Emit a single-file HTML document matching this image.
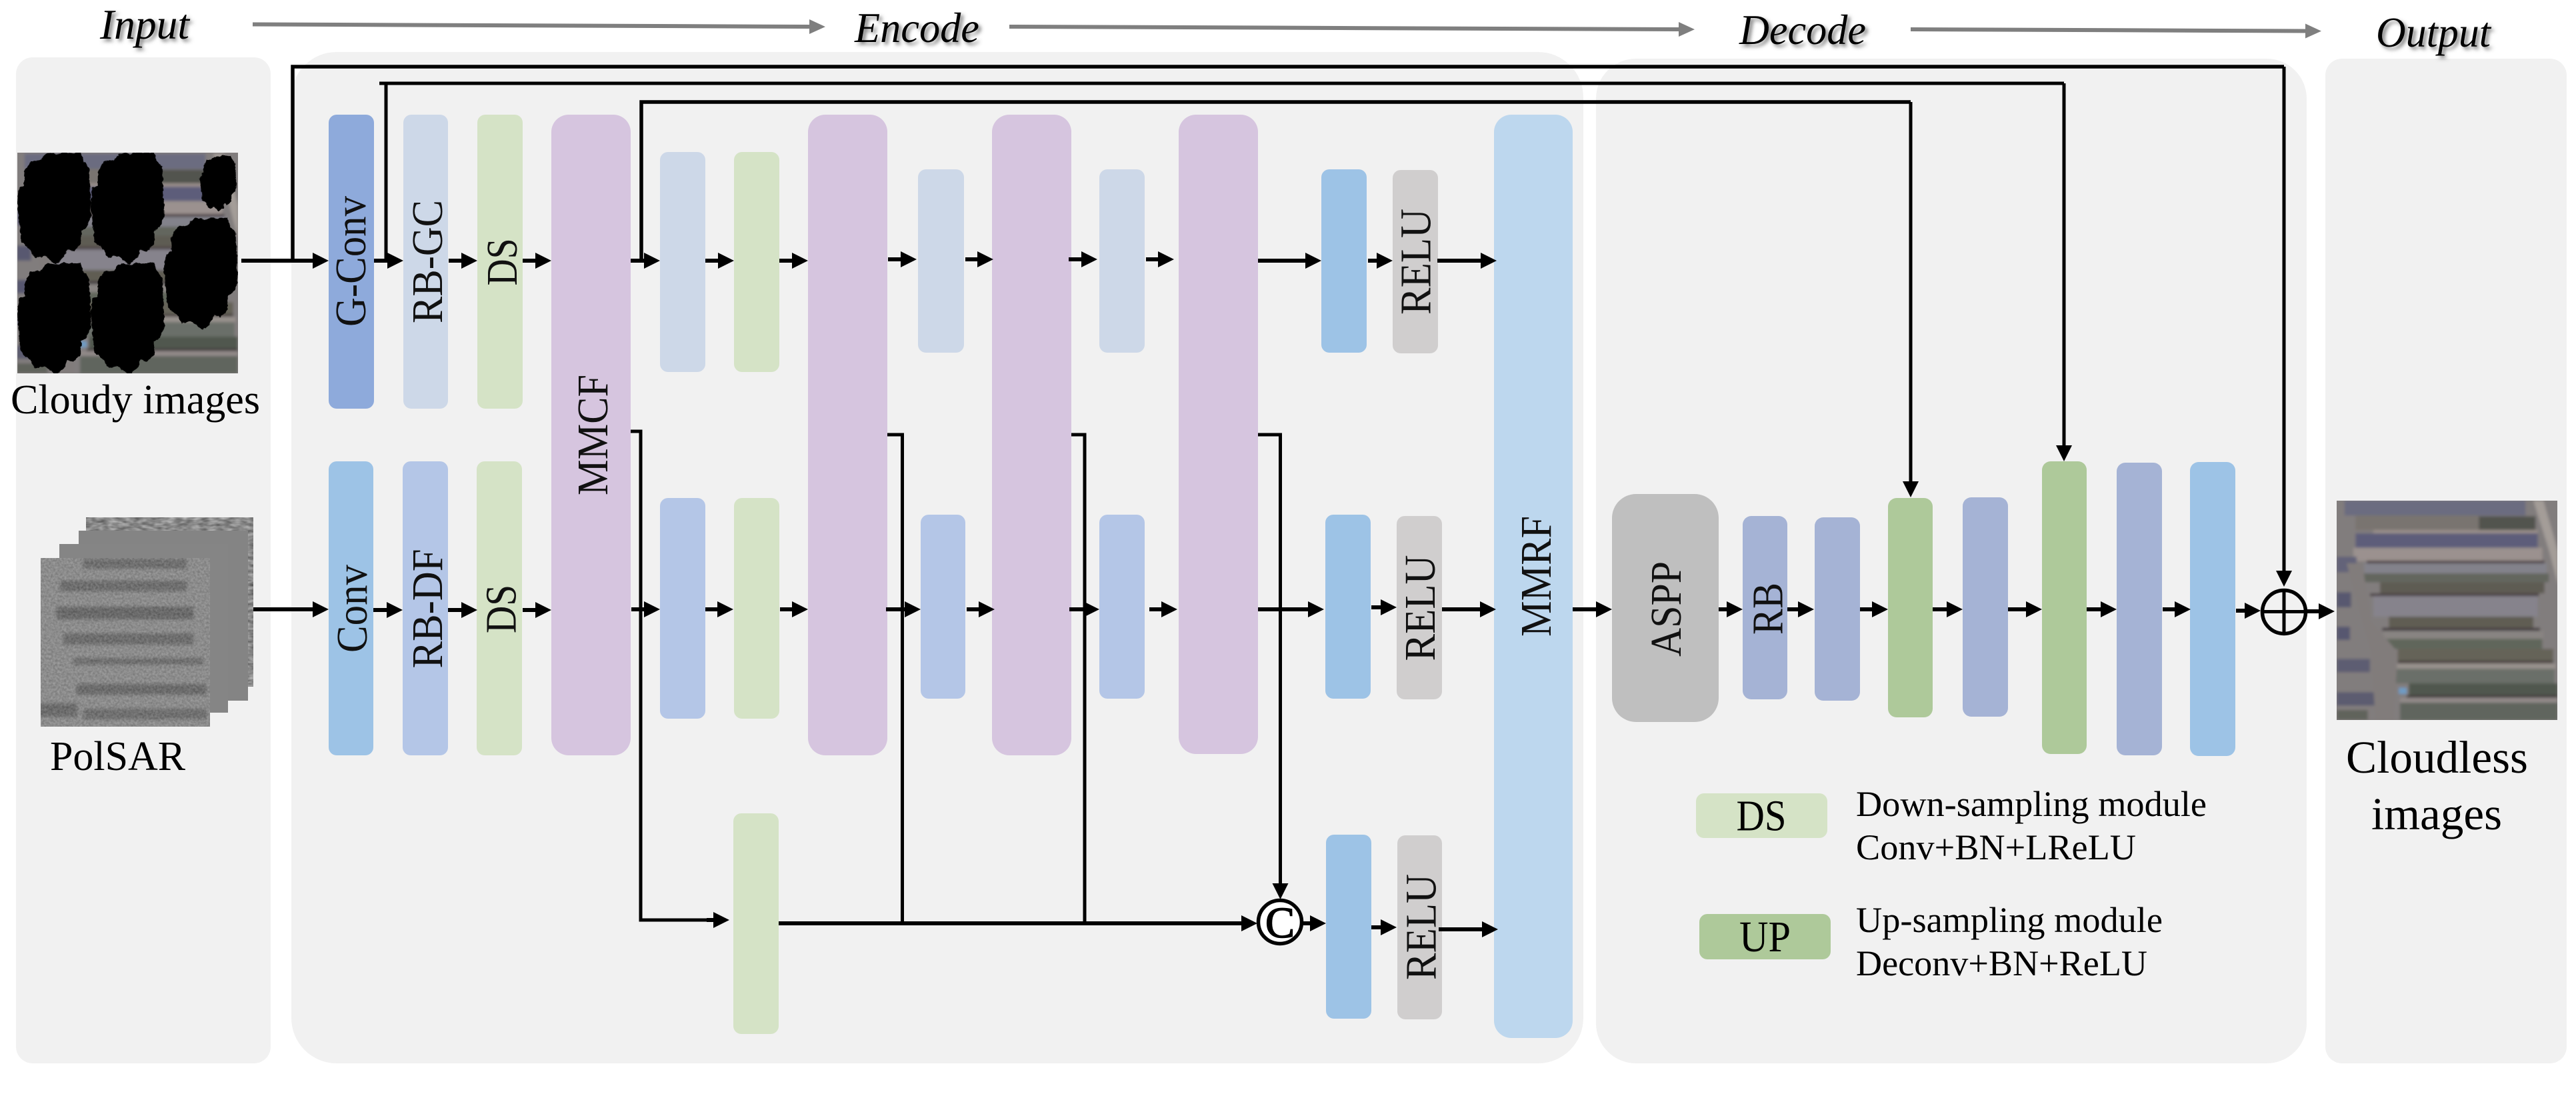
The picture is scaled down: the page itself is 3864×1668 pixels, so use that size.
<!DOCTYPE html>
<html lang="en">
<head>
<meta charset="utf-8">
<title>Network architecture diagram</title>
<style>
html,body{margin:0;padding:0;background:#fff;width:3864px;height:1668px;overflow:hidden}
svg{display:block}
text{font-family:"Liberation Serif","Times New Roman",serif;fill:#000}
.c path{fill:none;stroke:#000}
.a line{stroke:#000;stroke-width:6;marker-end:url(#ah)}
.v line{stroke:#000;stroke-width:5;marker-end:url(#ah)}
.g line{stroke:#7f7f7f;stroke-width:6;marker-end:url(#gh)}
.i{font-style:italic;font-size:63px;filter:url(#sh)}
.l{font-size:66px;fill:#111}
</style>
</head>
<body>
<svg xmlns="http://www.w3.org/2000/svg" width="3864" height="1668" viewBox="0 0 3864 1668">
<defs>
<marker id="ah" markerUnits="userSpaceOnUse" markerWidth="24" markerHeight="24" refX="0" refY="12" orient="auto"><path d="M0 0L24 12L0 24z" fill="#000"/></marker>
<marker id="gh" markerUnits="userSpaceOnUse" markerWidth="24" markerHeight="24" refX="0" refY="12" orient="auto"><path d="M0 1L24 12L0 23z" fill="#7f7f7f"/></marker>
<filter id="sh" x="-20%" y="-30%" width="140%" height="170%"><feDropShadow dx="4" dy="4" stdDeviation="3" flood-color="#555" flood-opacity=".75"/></filter>
<filter id="bl" x="-5%" y="-5%" width="110%" height="110%"><feGaussianBlur stdDeviation="6"/></filter>
<filter id="rough" x="-5%" y="-5%" width="110%" height="110%" color-interpolation-filters="sRGB"><feTurbulence type="fractalNoise" baseFrequency=".05" numOctaves="2" seed="4"/><feDisplacementMap in="SourceGraphic" scale="14" xChannelSelector="R" yChannelSelector="G"/></filter>
<filter id="grain" x="0" y="0" width="100%" height="100%" color-interpolation-filters="sRGB"><feGaussianBlur in="SourceGraphic" stdDeviation="2.5" result="s"/><feTurbulence type="fractalNoise" baseFrequency=".3" numOctaves="2" seed="7" result="n"/><feColorMatrix in="n" type="matrix" values="1 0 0 0 0 1 0 0 0 0 1 0 0 0 0 0 0 0 0 1" result="g"/><feComposite in="s" in2="g" operator="arithmetic" k1="0" k2="1" k3=".22" k4="-.11"/></filter>
<filter id="grain2" x="0" y="0" width="100%" height="100%" color-interpolation-filters="sRGB"><feTurbulence type="fractalNoise" baseFrequency=".08 .2" numOctaves="2" seed="11" result="n"/><feColorMatrix in="n" type="matrix" values="1 0 0 0 0 1 0 0 0 0 1 0 0 0 0 0 0 0 0 1" result="g"/><feComposite in="SourceGraphic" in2="g" operator="arithmetic" k1="0" k2="1" k3=".5" k4="-.25"/></filter>
<clipPath id="ci1"><rect x="26" y="229" width="331" height="331"/></clipPath>
<clipPath id="ci2"><rect x="3505" y="751" width="331" height="329"/></clipPath>
<clipPath id="ci3"><rect x="61" y="837" width="254" height="253"/></clipPath>
<g id="scene">
<g filter="url(#bl)">
<rect x="0" y="0" width="1030" height="1030" fill="#85807f"/>
<rect x="50" y="17" width="815" height="68" fill="#6c6d82"/>
<rect x="100" y="85" width="560" height="65" fill="#7b7670"/>
<rect x="655" y="88" width="255" height="62" fill="#4f5148"/>
<rect x="180" y="150" width="740" height="15" fill="#a0948f"/>
<rect x="100" y="165" width="820" height="65" fill="#5b5b7c"/>
<rect x="90" y="230" width="850" height="60" fill="#a29793"/>
<rect x="150" y="288" width="800" height="12" fill="#3f3336"/>
<rect x="140" y="300" width="820" height="45" fill="#87868f"/>
<rect x="120" y="345" width="850" height="40" fill="#62665c"/>
<rect x="210" y="385" width="740" height="50" fill="#5d5a50"/>
<rect x="165" y="435" width="760" height="13" fill="#463c40"/>
<rect x="180" y="448" width="740" height="92" fill="#8a8790"/>
<rect x="250" y="540" width="650" height="50" fill="#5f5c50"/>
<rect x="220" y="590" width="710" height="14" fill="#41383a"/>
<rect x="225" y="604" width="720" height="36" fill="#8d8884"/>
<rect x="220" y="640" width="720" height="45" fill="#5e6658"/>
<rect x="290" y="685" width="700" height="55" fill="#656255"/>
<rect x="290" y="738" width="700" height="12" fill="#3f3936"/>
<rect x="270" y="750" width="730" height="25" fill="#9d9590"/>
<rect x="265" y="775" width="730" height="65" fill="#6b7068"/>
<rect x="340" y="840" width="670" height="55" fill="#4d5548"/>
<rect x="330" y="893" width="680" height="12" fill="#3d3734"/>
<rect x="300" y="905" width="710" height="22" fill="#968e8c"/>
<rect x="300" y="927" width="710" height="80" fill="#5f655c"/>
<rect x="15" y="430" width="65" height="68" fill="#57576f"/>
<rect x="15" y="585" width="60" height="60" fill="#55556f"/>
<rect x="15" y="730" width="150" height="60" fill="#5b5b72"/>
<rect x="15" y="880" width="195" height="60" fill="#5a5a70"/>
<rect x="15" y="960" width="140" height="45" fill="#5f6259"/>
<rect x="15" y="270" width="90" height="70" fill="#62627a"/>
<polygon points="60,300 130,300 170,560 290,700 270,1010 190,1010 170,700 130,560" fill="#857f7d"/>
<polygon points="900,17 945,17 1012,250 1012,400 970,240" fill="#aca49e"/>
<rect x="295" y="860" width="35" height="28" fill="#6fa3cf"/>
</g>
<rect x="0" y="0" width="1030" height="1030" fill="#6f6b72" opacity=".12"/>
</g>
<polygon id="blob" points="140,30 160,17 200,25 225,12 250,20 300,15 310,50 335,80 340,180 345,300 325,345 300,360 300,420 270,450 240,440 225,480 190,508 155,480 140,470 100,480 80,445 40,410 30,310 22,240 30,175 55,165 55,100 80,55 125,50"/>
</defs>

<rect width="3864" height="1668" fill="#fff"/>

<rect x="24" y="86" width="382" height="1509" rx="25" fill="#f1f1f1"/>
<rect x="437" y="78" width="1938" height="1517" rx="68" fill="#f1f1f1"/>
<rect x="2394" y="88" width="1066" height="1507" rx="60" fill="#f1f1f1"/>
<rect x="3488" y="88" width="362" height="1507" rx="25" fill="#f1f1f1"/>

<text class="i" x="150" y="58" textLength="134" lengthAdjust="spacingAndGlyphs">Input</text>
<text class="i" x="1282" y="63" textLength="187" lengthAdjust="spacingAndGlyphs">Encode</text>
<text class="i" x="2609" y="66" textLength="190" lengthAdjust="spacingAndGlyphs">Decode</text>
<text class="i" x="3564" y="70" textLength="172" lengthAdjust="spacingAndGlyphs">Output</text>
<g class="g">
<line x1="379" y1="36.5" x2="1214" y2="40"/>
<line x1="1514" y1="40" x2="2518" y2="44"/>
<line x1="2866" y1="44" x2="3458" y2="46.5"/>
</g>

<g clip-path="url(#ci1)"><use href="#scene" transform="translate(20,225) scale(.33333)"/></g>
<g clip-path="url(#ci1)">
<g transform="translate(20,225) scale(.33333)" fill="#000" stroke="#000" stroke-width="10" filter="url(#rough)">
<use href="#blob"/>
<use href="#blob" transform="translate(330,0)"/>
<use href="#blob" transform="translate(0,497)"/>
<use href="#blob" transform="translate(330,497)"/>
<use href="#blob" transform="translate(660,295)"/>
<use href="#blob" transform="translate(832,19) scale(.49,.5)"/>
</g>
</g>
<text x="16" y="620" font-size="62" textLength="374" lengthAdjust="spacingAndGlyphs">Cloudy images</text>

<rect x="129" y="776" width="251" height="254" fill="#8a8a8a" filter="url(#grain2)"/>
<rect x="118" y="796" width="254" height="255" fill="#848484"/>
<rect x="89" y="816" width="253" height="253" fill="#858585"/>
<g clip-path="url(#ci3)">
<g filter="url(#grain)">
<rect x="50" y="825" width="280" height="280" fill="#8c8c8c"/>
<rect x="125" y="838" width="155" height="15" fill="#6f6f6f"/>
<rect x="90" y="871" width="190" height="16" fill="#6e6e6e"/>
<rect x="85" y="910" width="205" height="19" fill="#6a6a6a"/>
<rect x="95" y="950" width="195" height="17" fill="#6e6e6e"/>
<rect x="110" y="987" width="195" height="10" fill="#6f6f6f"/>
<rect x="115" y="1026" width="195" height="16" fill="#6c6c6c"/>
<rect x="125" y="1063" width="185" height="16" fill="#707070"/>
<rect x="50" y="1055" width="66" height="20" fill="#6c6c6c"/>
</g>
</g>
<text x="75" y="1155" font-size="62" textLength="203" lengthAdjust="spacingAndGlyphs">PolSAR</text>

<rect x="493" y="172" width="68" height="441" rx="12" fill="#8eaadb"/>
<rect x="605" y="172" width="67" height="441" rx="12" fill="#cdd8e8"/>
<rect x="716" y="172" width="68" height="441" rx="12" fill="#d5e3c6"/>
<rect x="827" y="172" width="119" height="961" rx="26" fill="#d6c5df"/>
<rect x="493" y="692" width="67" height="441" rx="12" fill="#9dc3e6"/>
<rect x="604" y="692" width="68" height="441" rx="12" fill="#b4c6e7"/>
<rect x="715" y="692" width="68" height="441" rx="12" fill="#d5e3c6"/>
<rect x="990" y="228" width="68" height="330" rx="12" fill="#cdd8e8"/>
<rect x="1101" y="228" width="68" height="330" rx="12" fill="#d5e3c6"/>
<rect x="1212" y="172" width="119" height="961" rx="26" fill="#d6c5df"/>
<rect x="1377" y="254" width="69" height="275" rx="12" fill="#cdd8e8"/>
<rect x="1488" y="172" width="119" height="961" rx="26" fill="#d6c5df"/>
<rect x="1649" y="254" width="68" height="275" rx="12" fill="#cdd8e8"/>
<rect x="1768" y="172" width="119" height="959" rx="26" fill="#d6c5df"/>
<rect x="1982" y="254" width="68" height="275" rx="12" fill="#9dc3e6"/>
<rect x="2089" y="255" width="68" height="275" rx="12" fill="#d0cece"/>
<rect x="2241" y="172" width="118" height="1385" rx="26" fill="#bdd7ee"/>
<rect x="990" y="747" width="68" height="331" rx="12" fill="#b4c6e7"/>
<rect x="1101" y="747" width="68" height="331" rx="12" fill="#d5e3c6"/>
<rect x="1381" y="772" width="67" height="276" rx="12" fill="#b4c6e7"/>
<rect x="1649" y="772" width="68" height="276" rx="12" fill="#b4c6e7"/>
<rect x="1988" y="772" width="68" height="276" rx="12" fill="#9dc3e6"/>
<rect x="2095" y="774" width="68" height="275" rx="12" fill="#d0cece"/>
<rect x="1100" y="1220" width="68" height="331" rx="12" fill="#d5e3c6"/>
<rect x="1989" y="1252" width="68" height="276" rx="12" fill="#9dc3e6"/>
<rect x="2096" y="1253" width="67" height="276" rx="12" fill="#d0cece"/>

<rect x="2418" y="741" width="160" height="342" rx="36" fill="#bfbfbf"/>
<rect x="2614" y="774" width="67" height="275" rx="13" fill="#a5b3d5"/>
<rect x="2722" y="776" width="68" height="275" rx="13" fill="#a5b3d5"/>
<rect x="2832" y="747" width="67" height="329" rx="13" fill="#aec99a"/>
<rect x="2944" y="746" width="68" height="329" rx="13" fill="#a5b3d5"/>
<rect x="3063" y="692" width="67" height="439" rx="13" fill="#aec99a"/>
<rect x="3175" y="694" width="68" height="439" rx="13" fill="#a5b3d5"/>
<rect x="3285" y="693" width="68" height="441" rx="13" fill="#9dc3e6"/>

<g clip-path="url(#ci2)"><use href="#scene" transform="translate(3500,745) scale(.33333)"/></g>
<text x="3519" y="1159" font-size="69" textLength="273" lengthAdjust="spacingAndGlyphs">Cloudless</text>
<text x="3557" y="1244" font-size="69" textLength="196" lengthAdjust="spacingAndGlyphs">images</text>

<g class="c">
<path stroke-width="5.5" d="M439 391V100H3426"/>
<path stroke-width="5" d="M579 391V125M569 125H3096"/>
<path stroke-width="5.5" d="M962 391V153H2866"/>
<path stroke-width="5" d="M946 647H961V1380H1071"/>
<path stroke-width="5" d="M1331 652H1353.5V1385"/>
<path stroke-width="5" d="M1607 652H1627V1385"/>
<path stroke-width="5" d="M1887 652H1920.5V1328"/>
</g>
<g class="v">
<line x1="3426" y1="100" x2="3426" y2="856"/>
<line x1="3096" y1="125" x2="3096" y2="668"/>
<line x1="2866" y1="153" x2="2866" y2="722"/>
<line x1="1920.5" y1="652" x2="1920.5" y2="1325"/>
</g>

<g class="a">
<line x1="362" y1="391" x2="469" y2="391"/>
<line x1="561" y1="391" x2="581" y2="391"/>
<line x1="673" y1="391" x2="692" y2="391"/>
<line x1="784" y1="391" x2="803" y2="391"/>
<line x1="946" y1="391" x2="966" y2="391"/>
<line x1="1058" y1="391" x2="1077" y2="391"/>
<line x1="1169" y1="391" x2="1188" y2="391"/>
<line x1="1332" y1="389" x2="1351" y2="389"/>
<line x1="1448" y1="389" x2="1466" y2="389"/>
<line x1="1603" y1="389" x2="1622" y2="389"/>
<line x1="1719" y1="389" x2="1737" y2="389"/>
<line x1="1887" y1="391" x2="1958" y2="391"/>
<line x1="2052" y1="391" x2="2065" y2="391"/>
<line x1="2156" y1="391" x2="2221" y2="391"/>
<line x1="380" y1="914" x2="469" y2="914"/>
<line x1="560" y1="915" x2="580" y2="915"/>
<line x1="672" y1="915" x2="692" y2="915"/>
<line x1="784" y1="915" x2="803" y2="915"/>
<line x1="947" y1="914" x2="966" y2="914"/>
<line x1="1058" y1="914" x2="1076" y2="914"/>
<line x1="1170" y1="914" x2="1188" y2="914"/>
<line x1="1329" y1="914" x2="1357" y2="914"/>
<line x1="1450" y1="914" x2="1468" y2="914"/>
<line x1="1604" y1="914" x2="1625" y2="914"/>
<line x1="1724" y1="914" x2="1742" y2="914"/>
<line x1="1887" y1="914" x2="1962" y2="914"/>
<line x1="2057" y1="911" x2="2071" y2="911"/>
<line x1="2163" y1="914" x2="2220" y2="914"/>
<line x1="2359" y1="914" x2="2394" y2="914"/>
<line x1="2578" y1="914" x2="2590" y2="914"/>
<line x1="2681" y1="914" x2="2697" y2="914"/>
<line x1="2790" y1="914" x2="2808" y2="914"/>
<line x1="2899" y1="914" x2="2920" y2="914"/>
<line x1="3012" y1="914" x2="3039" y2="914"/>
<line x1="3130" y1="914" x2="3151" y2="914"/>
<line x1="3244" y1="914" x2="3262" y2="914"/>
<line x1="3354" y1="916" x2="3367" y2="916"/>
<line x1="3459" y1="917" x2="3478" y2="917"/>
<line x1="1060" y1="1380" x2="1070" y2="1380"/>
<line x1="1168" y1="1385" x2="1862" y2="1385"/>
<line x1="1955" y1="1385" x2="1965" y2="1385"/>
<line x1="2057" y1="1391" x2="2071" y2="1391"/>
<line x1="2158" y1="1394" x2="2223" y2="1394"/>
</g>

<circle cx="1920" cy="1383" r="32.5" fill="#fff" stroke="#000" stroke-width="5.5"/>
<text x="1920" y="1406" font-size="66" text-anchor="middle" stroke="#000" stroke-width="1.6">C</text>
<circle cx="3426" cy="918" r="32.5" fill="none" stroke="#000" stroke-width="5.5"/>
<path d="M3393 917.5H3459M3426 885V951" stroke="#000" stroke-width="5" fill="none"/>

<text class="l" transform="translate(548,490) rotate(-90)" textLength="196" lengthAdjust="spacingAndGlyphs">G-Conv</text>
<text class="l" transform="translate(663,485) rotate(-90)" textLength="185" lengthAdjust="spacingAndGlyphs">RB-GC</text>
<text class="l" transform="translate(775,428.5) rotate(-90)" textLength="71" lengthAdjust="spacingAndGlyphs">DS</text>
<text class="l" transform="translate(911,743) rotate(-90)" textLength="181" lengthAdjust="spacingAndGlyphs">MMCF</text>
<text class="l" transform="translate(550,979) rotate(-90)" textLength="132" lengthAdjust="spacingAndGlyphs">Conv</text>
<text class="l" transform="translate(663,1002.5) rotate(-90)" textLength="179" lengthAdjust="spacingAndGlyphs">RB-DF</text>
<text class="l" transform="translate(773.5,950) rotate(-90)" textLength="73" lengthAdjust="spacingAndGlyphs">DS</text>
<text class="l" transform="translate(2145.5,472) rotate(-90)" textLength="159" lengthAdjust="spacingAndGlyphs">RELU</text>
<text class="l" transform="translate(2152,991.5) rotate(-90)" textLength="159" lengthAdjust="spacingAndGlyphs">RELU</text>
<text class="l" transform="translate(2153.5,1470) rotate(-90)" textLength="159" lengthAdjust="spacingAndGlyphs">RELU</text>
<text class="l" transform="translate(2326,955) rotate(-90)" textLength="181" lengthAdjust="spacingAndGlyphs">MMRF</text>
<text class="l" transform="translate(2521,985) rotate(-90)" textLength="143" lengthAdjust="spacingAndGlyphs">ASPP</text>
<text class="l" transform="translate(2673.5,952) rotate(-90)" textLength="78" lengthAdjust="spacingAndGlyphs">RB</text>

<rect x="2544" y="1190" width="197" height="67" rx="12" fill="#d5e3c6"/>
<rect x="2549" y="1371" width="197" height="68" rx="12" fill="#aec99a"/>
<text x="2604.5" y="1245.5" font-size="66" textLength="75" lengthAdjust="spacingAndGlyphs">DS</text>
<text x="2609" y="1427" font-size="66" textLength="77" lengthAdjust="spacingAndGlyphs">UP</text>
<text x="2784" y="1224" font-size="54" textLength="526" lengthAdjust="spacingAndGlyphs">Down-sampling module</text>
<text x="2784" y="1289" font-size="54" textLength="420" lengthAdjust="spacingAndGlyphs">Conv+BN+LReLU</text>
<text x="2784" y="1398" font-size="54" textLength="460" lengthAdjust="spacingAndGlyphs">Up-sampling module</text>
<text x="2784" y="1463" font-size="54" textLength="437" lengthAdjust="spacingAndGlyphs">Deconv+BN+ReLU</text>
</svg>
</body>
</html>
